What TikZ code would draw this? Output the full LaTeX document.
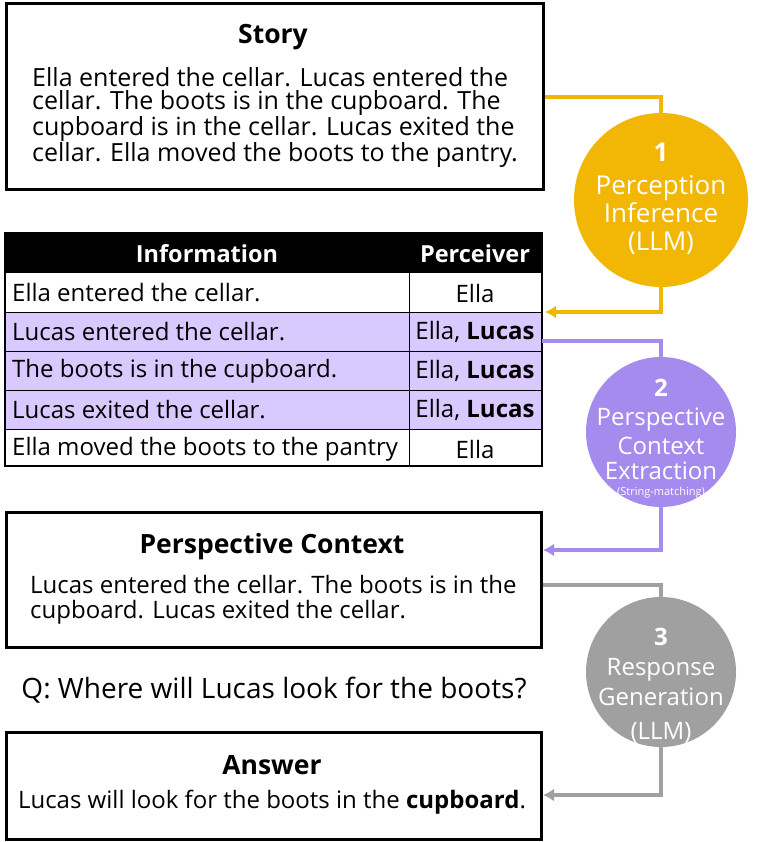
\documentclass[tikz,border=0pt]{standalone}
\usepackage{fontspec}
\setmainfont{Open Sans}
\usetikzlibrary{arrows.meta}
\definecolor{gold}{HTML}{F2B705}
\definecolor{purp}{HTML}{A68BEF}
\definecolor{lpurp}{HTML}{D9C9FF}
\definecolor{gr}{HTML}{A0A0A0}
\begin{document}
\begin{tikzpicture}[x=1pt,y=-1pt,
  box/.style={draw=black,line width=3pt},
  txt/.style={font=\fontsize{25}{26}\selectfont,anchor=west,inner sep=0},
  ttl/.style={font=\fontsize{26.5}{26}\selectfont\bfseries,inner sep=0},
  circ/.style={circle,inner sep=0},
  ctx/.style={text=white,font=\fontsize{26}{25}\selectfont,inner sep=0},
  ctxs/.style={text=white,font=\fontsize{24}{25}\selectfont,inner sep=0},
  flow/.style={line width=3.5pt,-{Latex[length=11pt,width=13pt]}},
  flown/.style={line width=3.5pt},
  cell/.style={font=\fontsize{24}{24}\selectfont,inner sep=0}]
\useasboundingbox (0,0) rectangle (762,842);
% Story
\node[box,minimum width=537,minimum height=186,anchor=north west] (story) at (5,2) {};
\node[ttl] (st) at (273,37) {Story};
\foreach \y/\t [count=\i] in {77/{Ella entered the cellar. Lucas entered the},103/{cellar. The boots is in the cupboard. The},129/{cupboard is in the cellar. Lucas exited the},155/{cellar. Ella moved the boots to the pantry.}}
  \node[txt] (s\i) at (32,\y) {\t};
% circle 1
\node[circ,fill=gold,minimum size=174] (c1) at (661,200) {};
\node[ctx] (c1a) at (661,152) {\bfseries 1};
\node[ctx] (c1b) at (661,188) {Perception};
\node[ctx] (c1c) at (661,213) {Inference};
\node[ctx] (c1d) at (661,243) {(LLM)};
% table
\fill[black] (5,233) rectangle (542,273);
\fill[lpurp] (5,312) rectangle (542,429);
\draw[line width=2pt] (5,233) rectangle (542,466);
\draw[line width=1pt] (409,233) -- (409,466);
\foreach \y in {312,351,390,429} \draw[line width=1pt] (5,\y) -- (542,\y);
\node[cell,text=white,font=\fontsize{23.5}{24}\selectfont\bfseries] (h1) at (207,254) {Information};
\node[cell,text=white,font=\fontsize{23.5}{24}\selectfont\bfseries] (h2) at (475,254) {Perceiver};
\foreach \y/\a/\b [count=\i] in {293/{Ella entered the cellar.}/{Ella},332/{Lucas entered the cellar.}/{Ella, \textbf{Lucas}},371/{The boots is in the cupboard.}/{Ella, \textbf{Lucas}},410/{Lucas exited the cellar.}/{Ella, \textbf{Lucas}},449/{Ella moved the boots to the pantry}/{Ella}}{
  \node[cell,anchor=west] (ra\i) at (12,\y) {\a};
  \node[cell] (rb\i) at (475,\y) {\b};}
\coordinate (tr1) at (545,312);
\coordinate (tr2) at (542,341);
% circle 2
\node[circ,fill=purp,minimum size=150] (c2) at (661,432) {};
\node[ctxs] (c2a) at (661,388) {\bfseries 2};
\node[ctxs] (c2b) at (661,420) {Perspective};
\node[ctxs] (c2c) at (661,446) {Context};
\node[ctxs] (c2d) at (661,471) {Extraction};
\node[ctx,font=\fontsize{11}{13}\selectfont] (c2e) at (661,493) {(String-matching)};
% perspective context
\node[box,minimum width=535,minimum height=135,anchor=north west] (pc) at (5,511) {};
\node[ttl] (pct) at (272,547) {Perspective Context};
\node[txt,font=\fontsize{24}{26}\selectfont] (p1) at (30,585) {Lucas entered the cellar. The boots is in the};
\node[txt,font=\fontsize{24}{26}\selectfont] (p2) at (30,612) {cupboard. Lucas exited the cellar.};
\coordinate (pr) at (543,550);
% circle 3
\node[circ,fill=gr,minimum size=150] (c3) at (661,672) {};
\node[ctxs] (c3a) at (661,637) {\bfseries 3};
\node[ctxs] (c3b) at (661,670) {Response};
\node[ctxs] (c3c) at (661,697) {Generation};
\node[ctxs] (c3d) at (661,733) {(LLM)};
% question
\node[cell,font=\fontsize{28}{24}\selectfont] (q) at (274,690) {Q: Where will Lucas look for the boots?};
% answer
\node[box,minimum width=535,minimum height=107,anchor=north west] (ans) at (5,731) {};
\node[ttl] (at) at (272,765) {Answer};
\node[cell] (a1) at (272,802) {Lucas will look for the boots in the \textbf{cupboard}.};
\coordinate (ar) at (543,795);
% arrows
\draw[flown,gold] (story.east|-0,97) -| (c1.north);
\draw[flow,gold] (c1.south) |- (tr1);
\draw[flown,purp] (tr2) -| (c2.north);
\draw[flow,purp] (c2.south) |- (pr);
\draw[flown,gr] (pc.east|-0,585) -| (c3.north);
\draw[flow,gr] (c3.south) |- (ar);
\end{tikzpicture}
\end{document}
